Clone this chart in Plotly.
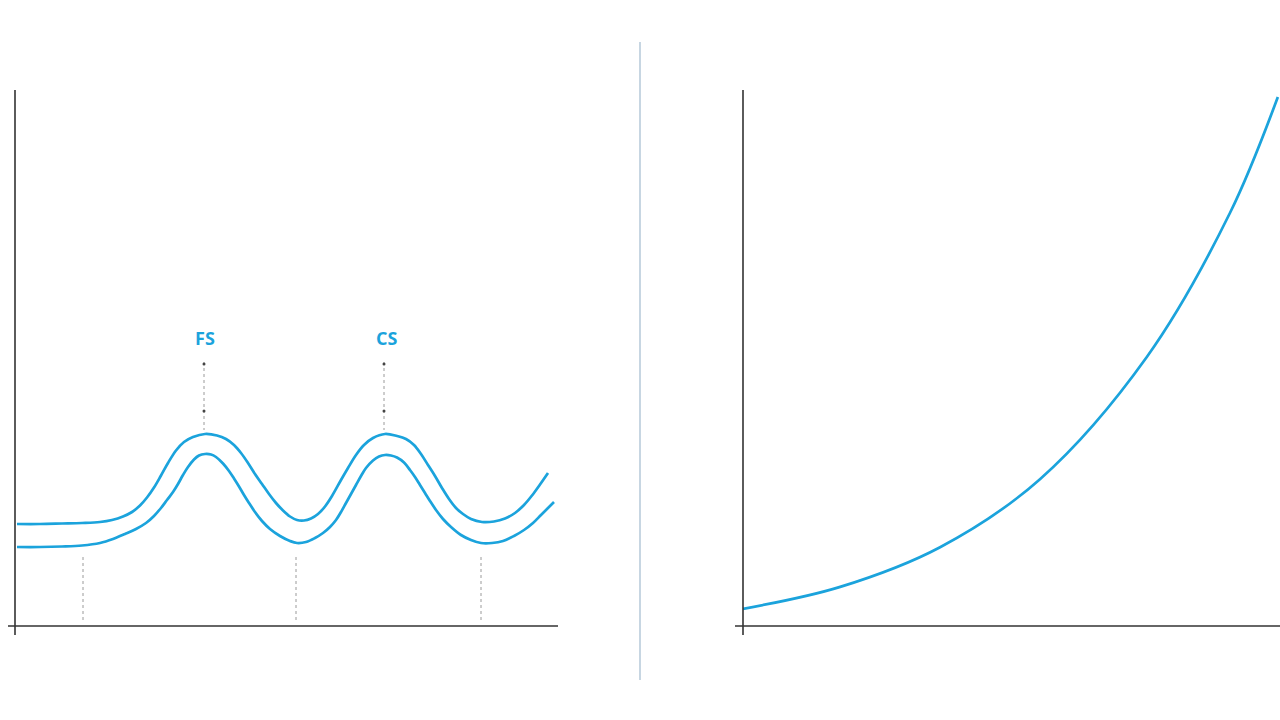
import plotly.graph_objects as go

# --- data ---
# left panel: two parallel waves (x: 0-543, y: 0-536 in the panel's own units)
wave_x_upper = [2, 25, 47, 67, 85, 97, 108, 117, 125, 132, 139, 146, 153, 161, 169,
                178, 190, 202, 211, 219, 226, 233, 240, 247, 254, 261, 268, 275, 282, 289,
                296, 303, 310, 317, 326, 333, 341, 349, 358, 370, 382, 391, 399, 406, 413,
                420, 427, 434, 441, 448, 456, 467, 479, 490, 500, 509, 517, 525, 533]
wave_y_upper = [102, 102, 102.5, 103, 104, 106, 109.5, 114, 120.5, 128.5, 138.5, 150.5, 163, 175.5, 184,
                189, 192, 190.5, 187, 181, 173, 163, 152, 142, 132, 123, 115.5, 109.5, 106, 105.5,
                107.5, 112, 119.5, 130, 146, 158, 171, 181, 188, 192, 190, 187, 181, 172, 161,
                150, 138, 127, 118, 112, 107, 104, 104.5, 107.5, 113, 121, 130.5, 141.5, 153]

wave_x_lower = [2, 25, 47, 67, 85, 98, 110, 121, 131, 139, 146, 152, 158, 163, 168,
                173, 179, 184, 190, 196, 201, 208, 214, 219, 224, 229, 234, 240, 247, 255,
                265, 275, 282, 291, 300, 308, 315, 321, 326, 331, 336, 341, 346, 351, 358,
                364, 370, 376, 382, 389, 395, 400, 405, 410, 415, 421, 428, 436, 446, 456,
                466, 477, 488, 499, 509, 518, 526, 533, 539]
wave_y_lower = [79, 79, 79.5, 80.5, 83, 87, 92, 97, 103, 110, 118, 126, 134, 142, 151,
                159, 166.5, 170.5, 172, 171.5, 169, 162.5, 155, 147.5, 139.5, 131, 123, 114, 105, 97,
                90, 85, 83, 84, 88, 93, 99, 106, 114, 123, 132, 141, 150, 158, 165.5,
                169.5, 171, 170.5, 168.5, 163.5, 156, 149, 141, 133, 125, 116, 107, 99, 91, 86,
                83, 83, 85, 90, 96, 103, 111, 118, 124]

# guide lines at troughs and peaks
trough_x = [68, 281, 466]
trough_y = [69, 6]
peak_x = [189, 369]
peak_y = [264, 196]
peak_dots_y = [262, 215]
peak_labels = ["FS", "CS"]
label_x = [190, 371]
label_y = 288

# right panel: growth curve (0-100 scales)
growth_x = [0.0, 18.1, 36.7, 55.3, 75.2, 90.7, 99.6]
growth_y = [3.2, 7.3, 14.7, 27.4, 50.2, 77.1, 98.7]

BLUE = "#1ba3dc"
GUIDE = "#9a9a9a"

fig = go.Figure()

# --- left panel: the two wavy lines ---
for wx, wy in [(wave_x_upper, wave_y_upper), (wave_x_lower, wave_y_lower)]:
    fig.add_trace(go.Scatter(x=wx, y=wy, mode="lines",
                             line=dict(color=BLUE, width=2.7, shape="spline", smoothing=1.0),
                             xaxis="x", yaxis="y", hoverinfo="skip"))

# dotted guide lines under the troughs
for tx in trough_x:
    fig.add_trace(go.Scatter(x=[tx, tx], y=trough_y, mode="lines",
                             line=dict(color=GUIDE, width=1, dash="dot"),
                             xaxis="x", yaxis="y", hoverinfo="skip"))

# dotted guide lines above the peaks, with labels
for gx, lx, lab in zip(peak_x, label_x, peak_labels):
    fig.add_trace(go.Scatter(x=[gx, gx], y=peak_y, mode="lines",
                             line=dict(color=GUIDE, width=1, dash="dot"),
                             xaxis="x", yaxis="y", hoverinfo="skip"))
    fig.add_trace(go.Scatter(x=[gx, gx], y=peak_dots_y, mode="markers",
                             marker=dict(color="#444444", size=3),
                             xaxis="x", yaxis="y", hoverinfo="skip"))
    fig.add_annotation(x=lx, y=label_y, xref="x", yref="y", text="<b>%s</b>" % lab,
                       showarrow=False, font=dict(family="Open Sans", size=18, color=BLUE))

# --- right panel: growth curve ---
fig.add_trace(go.Scatter(x=growth_x, y=growth_y, mode="lines",
                         line=dict(color=BLUE, width=2.7, shape="spline", smoothing=1.0),
                         xaxis="x2", yaxis="y2", hoverinfo="skip"))

W, H = 1280, 720

def px(x):
    return x / W

def py(y):
    return (H - y) / H

axis_style = dict(showgrid=False, zeroline=False, showticklabels=False, showline=False,
                  ticks="", fixedrange=True)

line_dark = dict(color="#333333", width=1.6)
shapes = [
    # left axes
    dict(type="line", xref="paper", yref="paper", x0=px(15), x1=px(15), y0=py(635), y1=py(90),
         line=line_dark),
    dict(type="line", xref="paper", yref="paper", x0=px(8), x1=px(558), y0=py(626), y1=py(626),
         line=line_dark),
    # right axes
    dict(type="line", xref="paper", yref="paper", x0=px(743), x1=px(743), y0=py(635), y1=py(90),
         line=line_dark),
    dict(type="line", xref="paper", yref="paper", x0=px(735), x1=px(1280), y0=py(626), y1=py(626),
         line=line_dark),
    # divider
    dict(type="line", xref="paper", yref="paper", x0=px(640), x1=px(640), y0=py(680), y1=py(42),
         line=dict(color="#b4c8d8", width=1.5)),
]

fig.update_layout(
    width=W, height=H,
    margin=dict(l=0, r=0, t=0, b=0),
    paper_bgcolor="white", plot_bgcolor="white",
    showlegend=False,
    xaxis=dict(domain=[px(15), px(558)], range=[0, 543], **axis_style),
    yaxis=dict(domain=[py(626), py(90)], range=[0, 536], **axis_style),
    xaxis2=dict(domain=[px(743), px(1280)], range=[0, 100], anchor="y2", **axis_style),
    yaxis2=dict(domain=[py(626), py(90)], range=[0, 100], anchor="x2", **axis_style),
    shapes=shapes,
)

fig.write_html("out.html", config={"displayModeBar": False},
               post_script="document.body.style.margin='0';document.body.style.overflow='hidden';")
